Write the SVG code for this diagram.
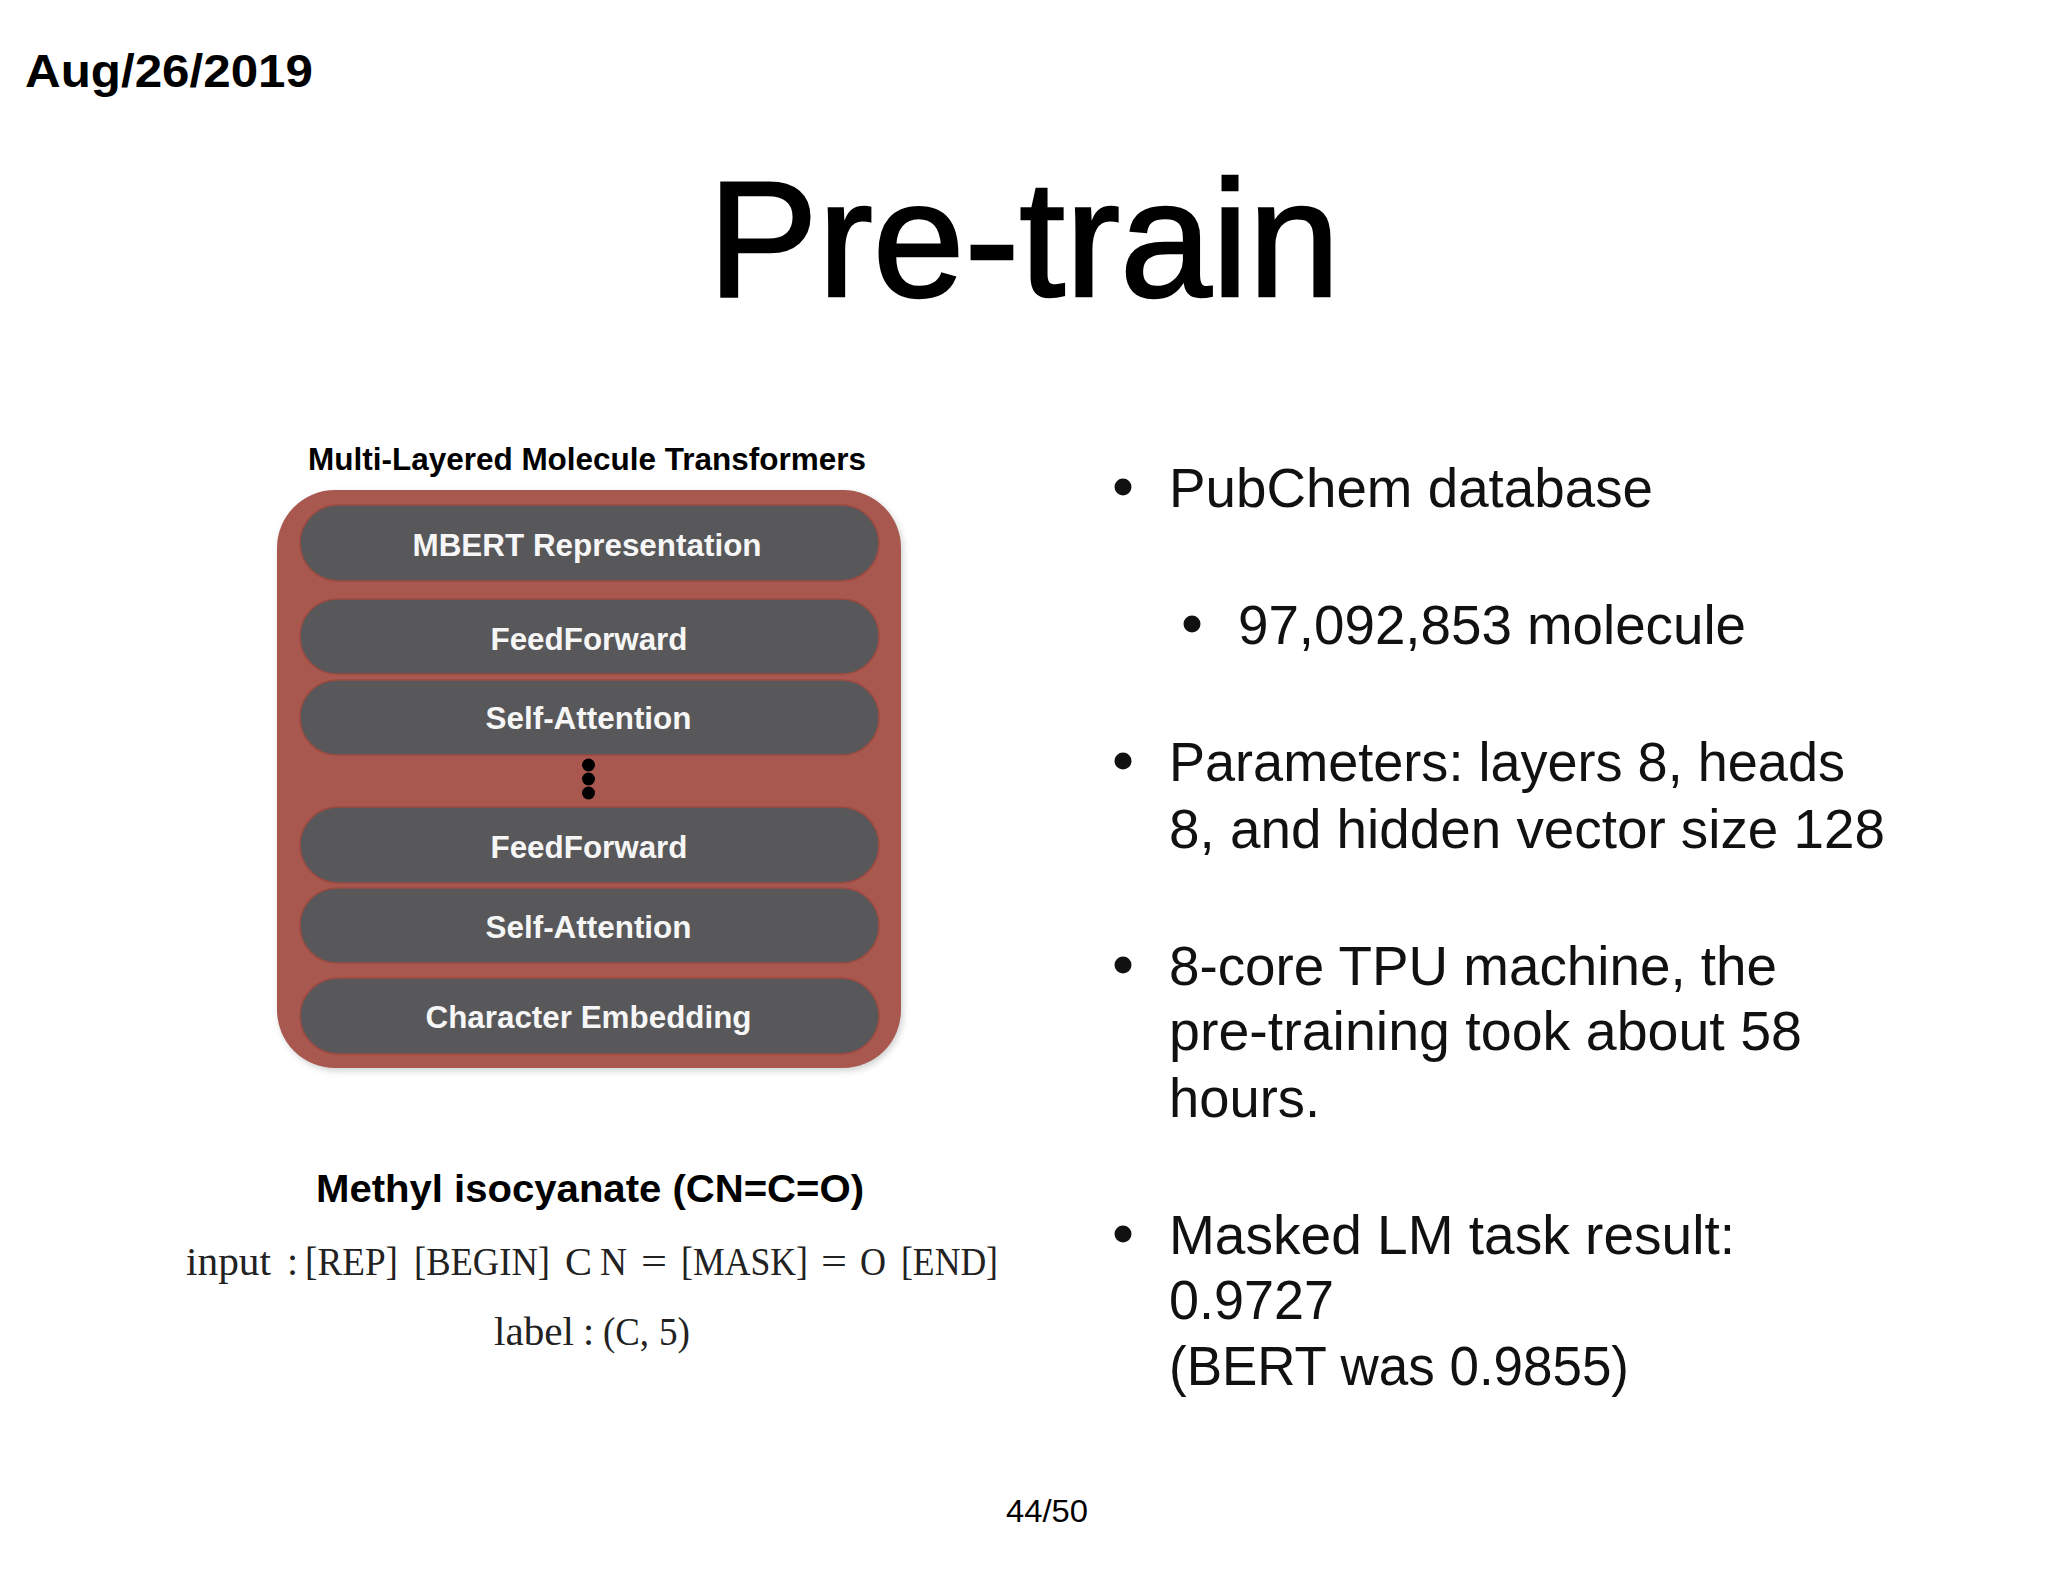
<svg xmlns="http://www.w3.org/2000/svg" width="2048" height="1582" viewBox="0 0 2048 1582">
<style>
text{font-family:"Liberation Sans",Arial,sans-serif;fill:#000}
.pill{fill:#58585a;stroke:#9c4a41;stroke-width:1.500}
.pt{font-size:32px;font-weight:700;fill:#f6f6f6;text-anchor:middle}
.b{font-size:55px;fill:#111}
.m{font-family:"Liberation Serif","Times New Roman",serif;font-size:40px;fill:#222}
.dot{fill:#000}
</style>
<defs><filter id="soft" x="-5%" y="-5%" width="110%" height="110%"><feGaussianBlur stdDeviation="3"/></filter></defs>
<rect width="2048" height="1582" fill="#fff"/>
<text id="date" x="25" y="87" font-size="46" font-weight="700" textLength="288" lengthAdjust="spacingAndGlyphs">Aug/26/2019</text>
<text id="title" x="708" y="296" font-size="165" stroke="#000" stroke-width="2.500" textLength="632" lengthAdjust="spacingAndGlyphs">Pre-train</text>
<text id="stack-title" x="308" y="470" font-size="31" font-weight="700" textLength="558" lengthAdjust="spacingAndGlyphs">Multi-Layered Molecule Transformers</text>
<rect x="279" y="493" width="624" height="578" rx="58" fill="#8a8f8c" opacity=".4" filter="url(#soft)"/>
<rect id="stack" x="277" y="490" width="624" height="578" rx="58" fill="#a8584e"/>
<g id="n-mbert"><rect class="pill" x="300" y="505" width="579" height="76" rx="38"/><text class="pt" x="587" y="556" textLength="349" lengthAdjust="spacingAndGlyphs">MBERT Representation</text></g>
<g id="n-ff2"><rect class="pill" x="300" y="599" width="579" height="75" rx="37"/><text class="pt" x="589" y="650" textLength="197" lengthAdjust="spacingAndGlyphs">FeedForward</text></g>
<g id="n-sa2"><rect class="pill" x="300" y="680" width="579" height="75" rx="37"/><text class="pt" x="588.500" y="729" textLength="206" lengthAdjust="spacingAndGlyphs">Self-Attention</text></g>
<g id="dots"><circle class="dot" cx="588.500" cy="765" r="6.500"/><circle class="dot" cx="588.500" cy="779" r="6.500"/><circle class="dot" cx="588.500" cy="793" r="6.500"/></g>
<g id="n-ff1"><rect class="pill" x="300" y="807" width="579" height="76" rx="38"/><text class="pt" x="589" y="858" textLength="197" lengthAdjust="spacingAndGlyphs">FeedForward</text></g>
<g id="n-sa1"><rect class="pill" x="300" y="888" width="579" height="75" rx="37"/><text class="pt" x="588.500" y="938" textLength="206" lengthAdjust="spacingAndGlyphs">Self-Attention</text></g>
<g id="n-char"><rect class="pill" x="300" y="978" width="579" height="76" rx="38"/><text class="pt" x="588.500" y="1028" textLength="326" lengthAdjust="spacingAndGlyphs">Character Embedding</text></g>
<text id="molecule" x="316" y="1202" font-size="39" font-weight="700" textLength="548" lengthAdjust="spacingAndGlyphs">Methyl isocyanate (CN=C=O)</text>
<text id="input" class="m" y="1275"><tspan x="186" textLength="85" lengthAdjust="spacingAndGlyphs">input</tspan> <tspan x="287">:</tspan> <tspan x="305" textLength="93" lengthAdjust="spacingAndGlyphs">[REP]</tspan> <tspan x="414" textLength="136" lengthAdjust="spacingAndGlyphs">[BEGIN]</tspan> <tspan x="565" textLength="27" lengthAdjust="spacingAndGlyphs">C</tspan> <tspan x="600" textLength="27" lengthAdjust="spacingAndGlyphs">N</tspan> <tspan x="641" textLength="26" lengthAdjust="spacingAndGlyphs">=</tspan> <tspan x="681" textLength="127" lengthAdjust="spacingAndGlyphs">[MASK]</tspan> <tspan x="821" textLength="26" lengthAdjust="spacingAndGlyphs">=</tspan> <tspan x="860" textLength="26" lengthAdjust="spacingAndGlyphs">O</tspan> <tspan x="901" textLength="97" lengthAdjust="spacingAndGlyphs">[END]</tspan></text>
<text id="label" class="m" y="1345"><tspan x="494" textLength="80" lengthAdjust="spacingAndGlyphs">label</tspan> <tspan x="583">:</tspan> <tspan x="603" textLength="46" lengthAdjust="spacingAndGlyphs">(C,</tspan> <tspan x="659" textLength="31" lengthAdjust="spacingAndGlyphs">5)</tspan></text>
<g id="bullets">
<circle cx="1123" cy="487" r="8.500" fill="#111"/>
<text class="b" x="1169" y="507" textLength="484" lengthAdjust="spacingAndGlyphs">PubChem database</text>
<circle cx="1192" cy="624" r="8.500" fill="#111"/>
<text class="b" x="1238" y="644" textLength="508" lengthAdjust="spacingAndGlyphs">97,092,853 molecule</text>
<circle cx="1123" cy="761" r="8.500" fill="#111"/>
<text class="b" x="1169" y="781" textLength="676" lengthAdjust="spacingAndGlyphs">Parameters: layers 8, heads</text>
<text class="b" x="1169" y="848" textLength="716" lengthAdjust="spacingAndGlyphs">8, and hidden vector size 128</text>
<circle cx="1123" cy="965" r="8.500" fill="#111"/>
<text class="b" x="1169" y="985" textLength="608" lengthAdjust="spacingAndGlyphs">8-core TPU machine, the</text>
<text class="b" x="1169" y="1050" textLength="633" lengthAdjust="spacingAndGlyphs">pre-training took about 58</text>
<text class="b" x="1169" y="1117" textLength="151" lengthAdjust="spacingAndGlyphs">hours.</text>
<circle cx="1123" cy="1234" r="8.500" fill="#111"/>
<text class="b" x="1169" y="1254" textLength="566" lengthAdjust="spacingAndGlyphs">Masked LM task result:</text>
<text class="b" x="1169" y="1319" textLength="165" lengthAdjust="spacingAndGlyphs">0.9727</text>
<text class="b" x="1169" y="1385" textLength="460" lengthAdjust="spacingAndGlyphs">(BERT was 0.9855)</text>
</g>
<text id="page" x="1047" y="1522" font-size="31" fill="#333" text-anchor="middle" textLength="82" lengthAdjust="spacingAndGlyphs">44/50</text>
</svg>
